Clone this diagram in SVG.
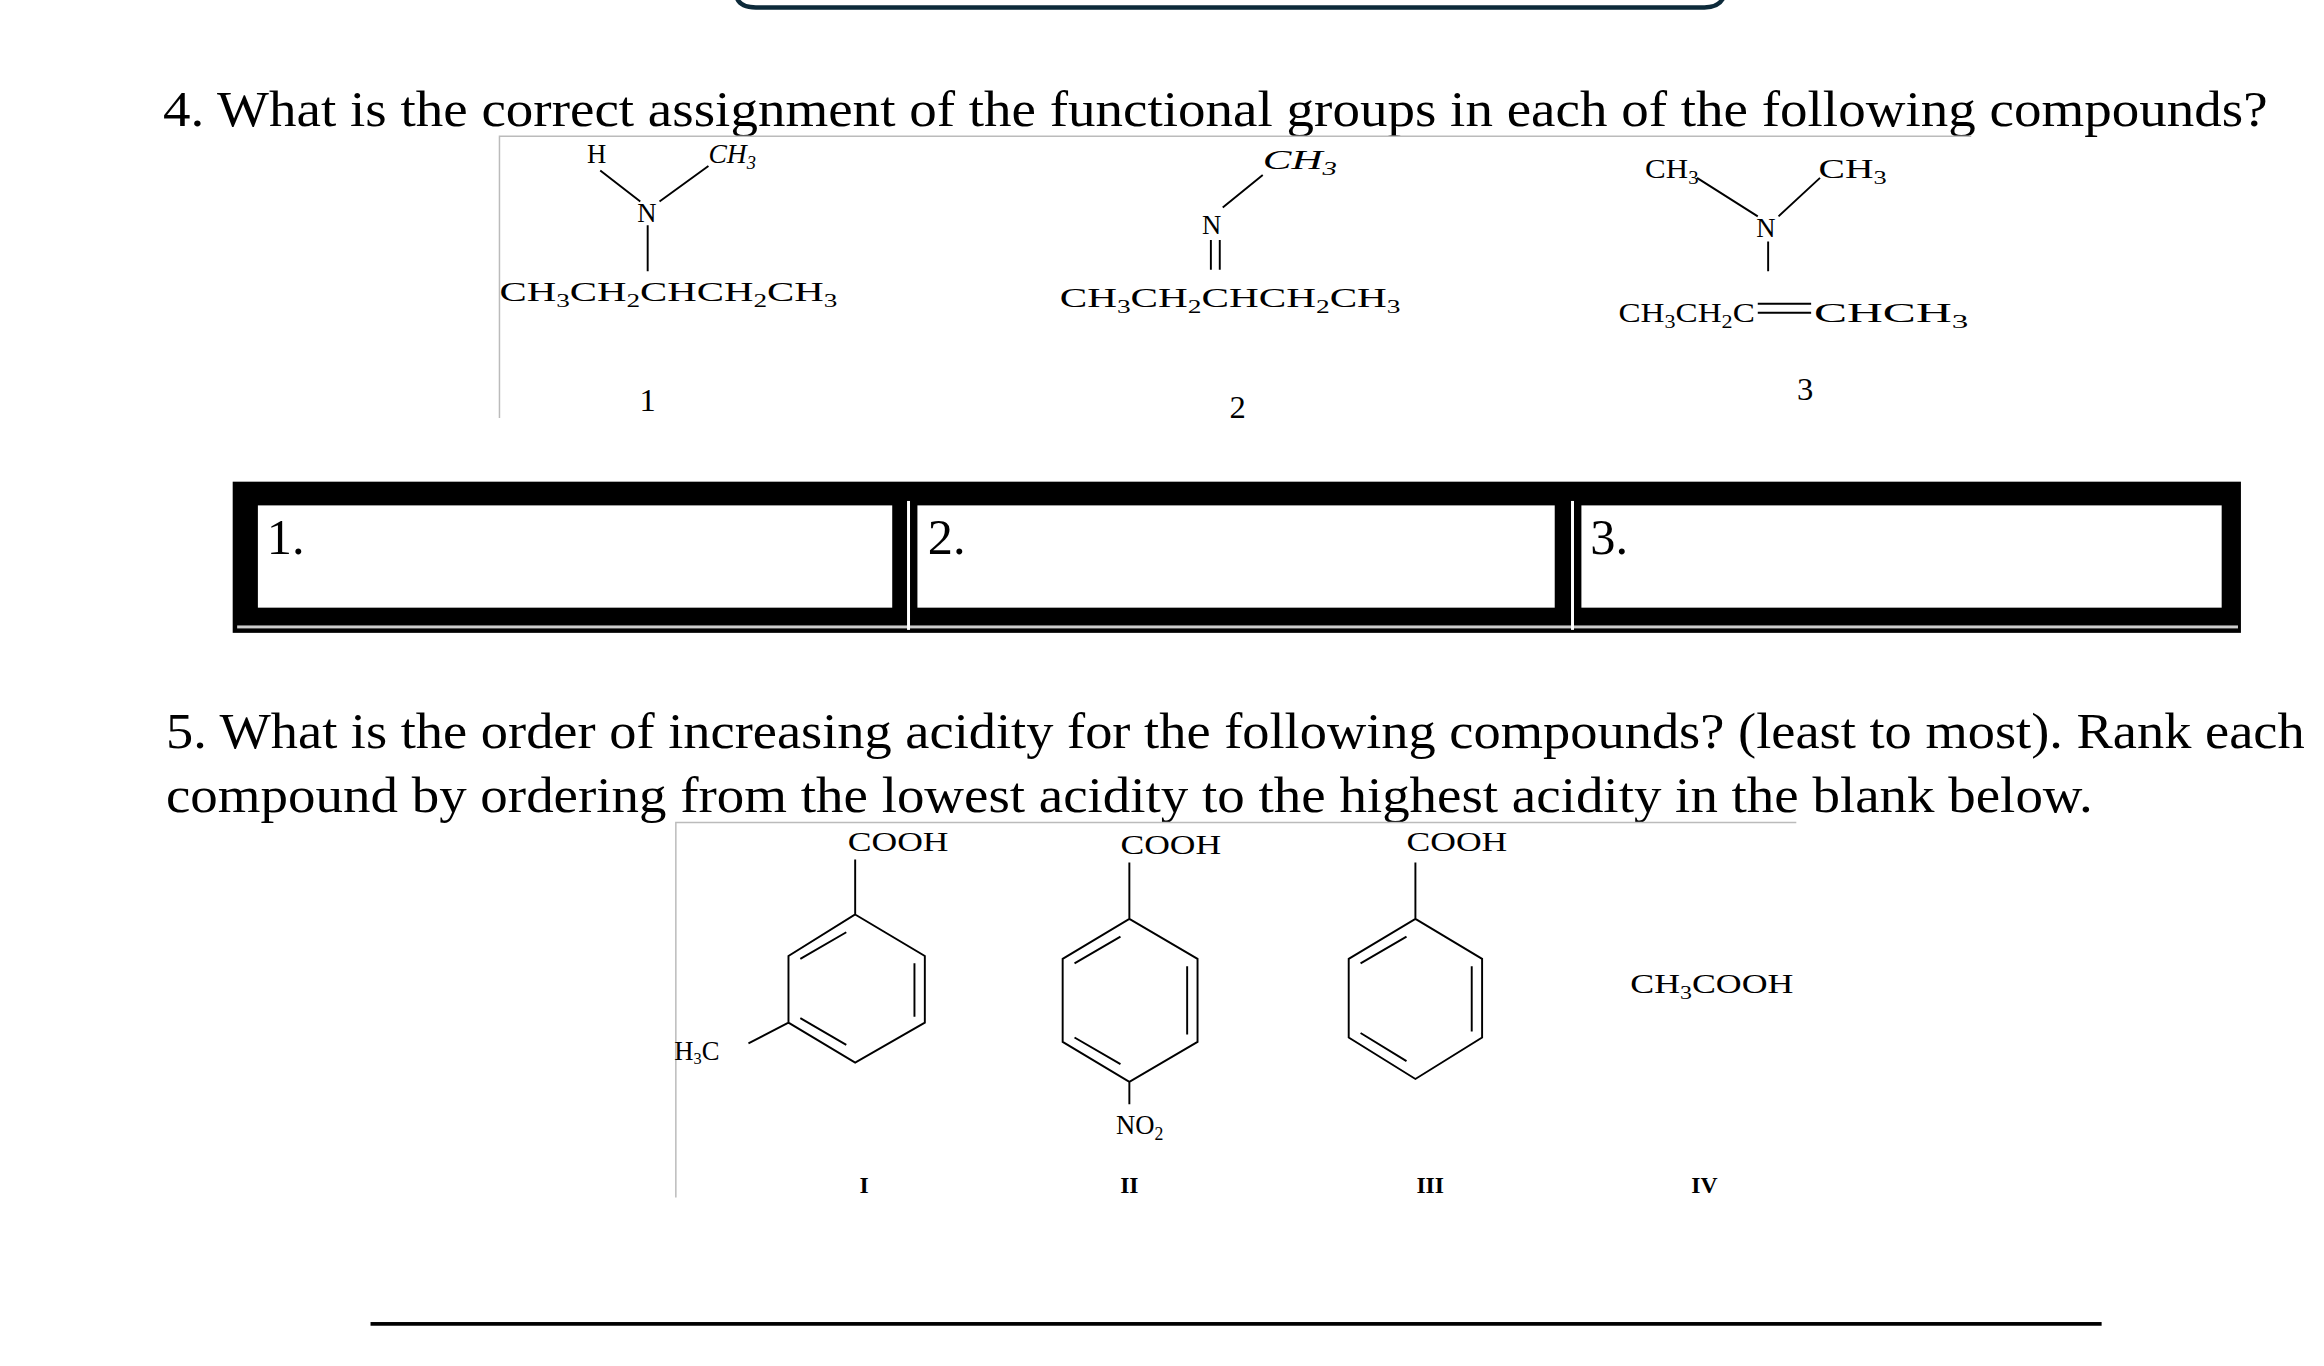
<svg xmlns="http://www.w3.org/2000/svg" width="2324" height="1366" viewBox="0 0 2324 1366">
<style>
.q{font-family:"Liberation Serif",serif;font-size:34px;fill:#000}
.c{font-family:"Liberation Serif",serif;font-size:18px;fill:#000}
.n{font-family:"Liberation Serif",serif;font-size:22px;fill:#000}
.r{font-family:"Liberation Serif",serif;font-size:16px;font-weight:bold;fill:#000}
.b{stroke:#000;stroke-width:1.3;fill:none}
.g{stroke:#bbb;stroke-width:1;fill:none}
</style>
<rect width="2324" height="1366" fill="#fff"/>
<g transform="scale(1.4821)">
<g id="topbar"><path d="M497,-10 L497,-2 Q499,5 510,5 L1150,5 Q1160,5 1163,-2 L1163,-10" fill="none" stroke="#0d2a3a" stroke-width="3"/></g>
<g id="q4"><text class="q" x="110" y="85" textLength="1420" lengthAdjust="spacingAndGlyphs">4. What is the correct assignment of the functional groups in each of the following compounds?</text></g>
<g id="img1">
<path class="g" d="M337,282 V92 H1330"/>
<g id="c1">
<text class="c" x="396" y="110">H</text>
<text class="c" x="478" y="110" font-style="italic" textLength="32" lengthAdjust="spacingAndGlyphs">CH<tspan font-size="12" dy="4">3</tspan></text>
<text class="c" x="430" y="150">N</text>
<path class="b" d="M405,115 L432,136 M478,112 L445,136 M437,152 V183"/>
<text class="c" x="337" y="203" textLength="228" lengthAdjust="spacingAndGlyphs">CH<tspan font-size="12" dy="4">3</tspan><tspan dy="-4">CH</tspan><tspan font-size="12" dy="4">2</tspan><tspan dy="-4">CHCH</tspan><tspan font-size="12" dy="4">2</tspan><tspan dy="-4">CH</tspan><tspan font-size="12" dy="4">3</tspan></text>
<text class="n" x="437" y="277" text-anchor="middle">1</text>
</g>
<g id="c2">
<text class="c" x="852" y="114" font-style="italic" textLength="50" lengthAdjust="spacingAndGlyphs">CH<tspan font-size="12" dy="4">3</tspan></text>
<text class="c" x="811" y="158">N</text>
<path class="b" d="M852,118 L825,140 M817,162 V182 M823,162 V182"/>
<text class="c" x="715" y="207" textLength="230" lengthAdjust="spacingAndGlyphs">CH<tspan font-size="12" dy="4">3</tspan><tspan dy="-4">CH</tspan><tspan font-size="12" dy="4">2</tspan><tspan dy="-4">CHCH</tspan><tspan font-size="12" dy="4">2</tspan><tspan dy="-4">CH</tspan><tspan font-size="12" dy="4">3</tspan></text>
<text class="n" x="835" y="282" text-anchor="middle">2</text>
</g>
<g id="c3">
<text class="c" x="1110" y="120" textLength="36" lengthAdjust="spacingAndGlyphs">CH<tspan font-size="12" dy="4">3</tspan></text>
<text class="c" x="1227" y="120" textLength="46" lengthAdjust="spacingAndGlyphs">CH<tspan font-size="12" dy="4">3</tspan></text>
<text class="c" x="1185" y="160">N</text>
<path class="b" d="M1145,120 L1186,146 M1228,120 L1200,146 M1193,163 V183 M1186,205 H1222 M1186,211 H1222"/>
<text class="c" x="1092" y="217" textLength="92" lengthAdjust="spacingAndGlyphs">CH<tspan font-size="12" dy="4">3</tspan><tspan dy="-4">CH</tspan><tspan font-size="12" dy="4">2</tspan><tspan dy="-4">C</tspan></text>
<text class="c" x="1224" y="217" textLength="104" lengthAdjust="spacingAndGlyphs">CHCH<tspan font-size="12" dy="4">3</tspan></text>
<text class="n" x="1218" y="270" text-anchor="middle">3</text>
</g>
</g>
<g id="table">
<rect x="157" y="325" width="1355" height="102" fill="#000"/>
<rect x="160" y="422" width="1350" height="2" fill="#ccc"/>
<rect x="174" y="341" width="428" height="69" fill="#fff"/>
<rect x="619" y="341" width="430" height="69" fill="#fff"/>
<rect x="1067" y="341" width="432" height="69" fill="#fff"/>
<rect x="612" y="338" width="2" height="87" fill="#fff"/>
<rect x="1060" y="338" width="2" height="87" fill="#fff"/>
<text class="q" x="180" y="374" font-size="30">1.</text>
<text class="q" x="626" y="374" font-size="30">2.</text>
<text class="q" x="1073" y="374" font-size="30">3.</text>
</g>
<g id="q5">
<text class="q" x="112" y="505" textLength="1443" lengthAdjust="spacingAndGlyphs">5. What is the order of increasing acidity for the following compounds? (least to most). Rank each</text>
<text class="q" x="112" y="548" textLength="1300" lengthAdjust="spacingAndGlyphs">compound by ordering from the lowest acidity to the highest acidity in the blank below.</text>
</g>
<g id="img2">
<path class="g" d="M456,808 V555 H1212"/>
<g id="b1">
<text class="c" x="572" y="574" textLength="68" lengthAdjust="spacingAndGlyphs">COOH</text>
<path class="b" d="M577,580 V617 M577,617 L624,645 V690 L577,717 L532,690 V645 Z M571,629 L540,647 M617,650 V686 M540,687 L571,705 M532,690 L505,704"/>
<text class="c" x="455" y="715" font-size="16">H<tspan font-size="11" dy="3">3</tspan><tspan dy="-3">C</tspan></text>
<text class="r" x="583" y="805" text-anchor="middle">I</text>
</g>
<g id="b2">
<text class="c" x="756" y="576" textLength="68" lengthAdjust="spacingAndGlyphs">COOH</text>
<path class="b" d="M762,582 V620 M762,620 L808,647 V703 L762,730 L717,703 V647 Z M756,632 L725,650 M801,652 V698 M725,700 L756,718 M762,730 V745"/>
<text class="c" x="753" y="765">NO<tspan font-size="12" dy="4">2</tspan></text>
<text class="r" x="762" y="805" text-anchor="middle">II</text>
</g>
<g id="b3">
<text class="c" x="949" y="574" textLength="68" lengthAdjust="spacingAndGlyphs">COOH</text>
<path class="b" d="M955,582 V620 M955,620 L1000,647 V700 L955,728 L910,700 V647 Z M949,632 L918,650 M993,652 V696 M918,697 L949,716"/>
<text class="r" x="965" y="805" text-anchor="middle">III</text>
</g>
<g id="b4">
<text class="c" x="1100" y="670" textLength="110" lengthAdjust="spacingAndGlyphs">CH<tspan font-size="12" dy="4">3</tspan><tspan dy="-4">COOH</tspan></text>
<text class="r" x="1150" y="805" text-anchor="middle">IV</text>
</g>
</g>
<g id="blank"><rect x="250" y="892" width="1168" height="2.5" fill="#000"/></g>
</g>
</svg>
